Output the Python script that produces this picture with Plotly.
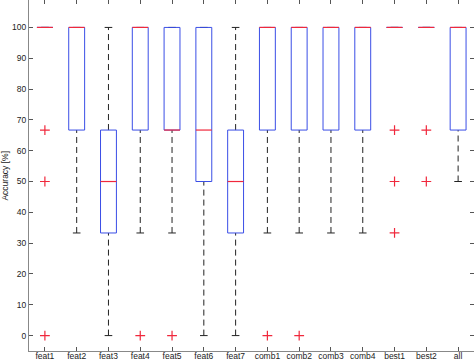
import plotly.graph_objects as go

categories = ["feat1", "feat2", "feat3", "feat4", "feat5", "feat6", "feat7",
              "comb1", "comb2", "comb3", "comb4", "best1", "best2", "all"]
q1 = [100, 66.7, 33.3, 66.7, 66.7, 50, 33.3, 66.7, 66.7, 66.7, 66.7, 100, 100, 66.7]
median = [100, 100, 50, 100, 66.7, 66.7, 50, 100, 100, 100, 100, 100, 100, 100]
q3 = [100, 100, 66.7, 100, 100, 100, 66.7, 100, 100, 100, 100, 100, 100, 100]
lower_whisker = [100, 33.3, 0, 33.3, 33.3, 0, 0, 33.3, 33.3, 33.3, 33.3, 100, 100, 50]
upper_whisker = [100, 100, 100, 100, 100, 100, 100, 100, 100, 100, 100, 100, 100, 100]
outliers = {
    "feat1": [66.7, 50, 0],
    "feat4": [0],
    "feat5": [0],
    "comb1": [0],
    "comb2": [0],
    "best1": [66.7, 50, 33.3],
    "best2": [66.7, 50],
}
yticks = [0, 10, 20, 30, 40, 50, 60, 70, 80, 90, 100]

BOX_HW = 0.25
CAP_HW = 0.12
BLUE = "#3a4ee6"
RED = "#f0283c"
BLACK = "#222222"

pos = list(range(1, len(categories) + 1))

wx, wy = [], []
cx, cy = [], []
bx, by = [], []
mx, my = [], []
for p, a, m, b, lo, hi in zip(pos, q1, median, q3, lower_whisker, upper_whisker):
    if hi > b:
        wx += [p, p, None]; wy += [b, hi, None]
    if lo < a:
        wx += [p, p, None]; wy += [lo, a, None]
    cx += [p - CAP_HW, p + CAP_HW, None]; cy += [hi, hi, None]
    cx += [p - CAP_HW, p + CAP_HW, None]; cy += [lo, lo, None]
    bx += [p - BOX_HW, p + BOX_HW, p + BOX_HW, p - BOX_HW, p - BOX_HW, None]
    by += [a, a, b, b, a, None]
    mx += [p - BOX_HW, p + BOX_HW, None]; my += [m, m, None]

ox, oy = [], []
for name, vals in outliers.items():
    p = pos[categories.index(name)]
    for v in vals:
        ox.append(p); oy.append(v)

fig = go.Figure()
fig.add_trace(go.Scatter(x=wx, y=wy, mode="lines",
                         line=dict(color=BLACK, width=1, dash="6px,4px"),
                         hoverinfo="skip"))
fig.add_trace(go.Scatter(x=cx, y=cy, mode="lines",
                         line=dict(color=BLACK, width=1), hoverinfo="skip"))
fig.add_trace(go.Scatter(x=bx, y=by, mode="lines",
                         line=dict(color=BLUE, width=1), hoverinfo="skip"))
fig.add_trace(go.Scatter(x=mx, y=my, mode="lines",
                         line=dict(color=RED, width=1.2), hoverinfo="skip"))
fig.add_trace(go.Scatter(x=ox, y=oy, mode="markers",
                         marker=dict(symbol="cross-thin", size=7,
                                     line=dict(color=RED, width=1.2)),
                         hoverinfo="skip"))

fig.update_layout(
    width=474, height=363,
    margin=dict(l=29, r=0, t=0, b=12),
    paper_bgcolor="white", plot_bgcolor="white",
    showlegend=False,
    font=dict(family="Liberation Sans, Arial, sans-serif", size=8.5, color="#222222"),
    xaxis=dict(range=[0.5, 14.5], tickmode="array", tickvals=pos, ticktext=categories,
               ticks="inside", ticklen=4, tickcolor="#555555",
               showline=True, linecolor="#888888", linewidth=1, mirror="ticks",
               showgrid=False, zeroline=False, automargin=False,
               ticklabelstandoff=-3),
    yaxis=dict(range=[-5, 108.9], tickmode="array", tickvals=yticks,
               ticks="inside", ticklen=4, tickcolor="#555555",
               showline=True, linecolor="#888888", linewidth=1, mirror="ticks",
               showgrid=False, zeroline=False, automargin=False),
    annotations=[dict(text="Accuracy [%]", xref="paper", yref="paper",
                      x=-0.056, y=0.5, xanchor="center", yanchor="middle",
                      textangle=-90, showarrow=False,
                      font=dict(size=8.5, color="#222222"))],
)

fig.write_html("out.html", config={"displayModeBar": False},
               post_script="document.body.style.margin='0';document.body.style.overflow='hidden';")
